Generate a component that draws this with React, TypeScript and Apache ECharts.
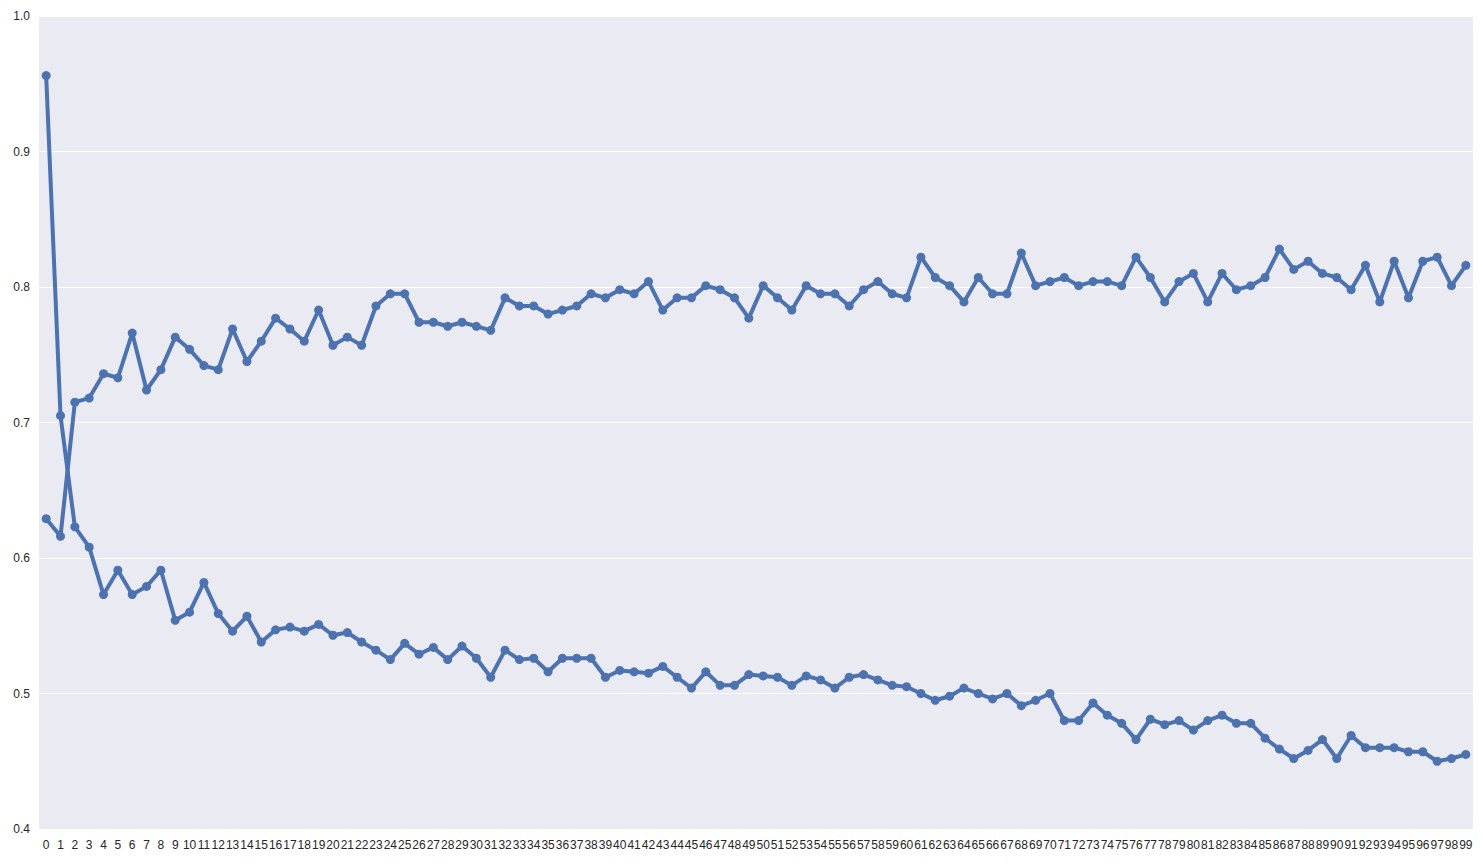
import React, { useEffect, useRef } from "react";
import * as echarts from "echarts";

const categories: string[] = Array.from({ length: 100 }, (_, i) => String(i));

const seriesA: number[] = [
  0.629, 0.616, 0.715, 0.718, 0.736, 0.733, 0.766, 0.724, 0.739, 0.763,
  0.754, 0.742, 0.739, 0.769, 0.745, 0.760, 0.777, 0.769, 0.760, 0.783,
  0.757, 0.763, 0.757, 0.786, 0.795, 0.795, 0.774, 0.774, 0.771, 0.774,
  0.771, 0.768, 0.792, 0.786, 0.786, 0.780, 0.783, 0.786, 0.795, 0.792,
  0.798, 0.795, 0.804, 0.783, 0.792, 0.792, 0.801, 0.798, 0.792, 0.777,
  0.801, 0.792, 0.783, 0.801, 0.795, 0.795, 0.786, 0.798, 0.804, 0.795,
  0.792, 0.822, 0.807, 0.801, 0.789, 0.807, 0.795, 0.795, 0.825, 0.801,
  0.804, 0.807, 0.801, 0.804, 0.804, 0.801, 0.822, 0.807, 0.789, 0.804,
  0.810, 0.789, 0.810, 0.798, 0.801, 0.807, 0.828, 0.813, 0.819, 0.810,
  0.807, 0.798, 0.816, 0.789, 0.819, 0.792, 0.819, 0.822, 0.801, 0.816,
];

const seriesB: number[] = [
  0.956, 0.705, 0.623, 0.608, 0.573, 0.591, 0.573, 0.579, 0.591, 0.554,
  0.560, 0.582, 0.559, 0.546, 0.557, 0.538, 0.547, 0.549, 0.546, 0.551,
  0.543, 0.545, 0.538, 0.532, 0.525, 0.537, 0.529, 0.534, 0.525, 0.535,
  0.526, 0.512, 0.532, 0.525, 0.526, 0.516, 0.526, 0.526, 0.526, 0.512,
  0.517, 0.516, 0.515, 0.520, 0.512, 0.504, 0.516, 0.506, 0.506, 0.514,
  0.513, 0.512, 0.506, 0.513, 0.510, 0.504, 0.512, 0.514, 0.510, 0.506,
  0.505, 0.500, 0.495, 0.498, 0.504, 0.500, 0.496, 0.500, 0.491, 0.495,
  0.500, 0.480, 0.480, 0.493, 0.484, 0.478, 0.466, 0.481, 0.477, 0.480,
  0.473, 0.480, 0.484, 0.478, 0.478, 0.467, 0.459, 0.452, 0.458, 0.466,
  0.452, 0.469, 0.460, 0.460, 0.460, 0.457, 0.457, 0.450, 0.452, 0.455,
];

const yTicks = { min: 0.4, max: 1.0, interval: 0.1 };

const LINE_COLOR = "#4C72B0";
const FONT = "'Liberation Sans', Arial, sans-serif";

export default function App() {
  const ref = useRef<HTMLDivElement>(null);

  useEffect(() => {
    if (!ref.current) return;
    const chart = echarts.init(ref.current, undefined, { renderer: "svg" });
    const mkSeries = (data: number[]) => ({
      type: "line",
      data,
      symbol: "circle",
      symbolSize: 9,
      showSymbol: true,
      lineStyle: { color: LINE_COLOR, width: 4 },
      itemStyle: { color: LINE_COLOR },
      emphasis: { disabled: true },
    });
    chart.setOption({
      animation: false,
      backgroundColor: "#ffffff",
      grid: {
        left: 39,
        right: 10,
        top: 16,
        bottom: 35,
        show: true,
        backgroundColor: "#EAEAF2",
        borderWidth: 0,
      },
      xAxis: {
        type: "category",
        data: categories,
        boundaryGap: true,
        axisLine: { show: false },
        axisTick: { show: false },
        splitLine: { show: false },
        axisLabel: {
          interval: 0,
          hideOverlap: false,
          color: "#262626",
          fontSize: 12,
          fontFamily: FONT,
          margin: 10,
        },
      },
      yAxis: {
        type: "value",
        min: yTicks.min,
        max: yTicks.max,
        interval: yTicks.interval,
        axisLine: { show: false },
        axisTick: { show: false },
        splitLine: { show: true, lineStyle: { color: "#ffffff", width: 1.2 } },
        axisLabel: {
          color: "#262626",
          fontSize: 12,
          fontFamily: FONT,
          margin: 9,
          formatter: (v: number) => v.toFixed(1),
        },
      },
      series: [mkSeries(seriesA), mkSeries(seriesB)],
    });
    return () => chart.dispose();
  }, []);

  return (
    <div
      ref={ref}
      style={{ position: "fixed", left: 0, top: 0, width: 1483, height: 864 }}
    />
  );
}
